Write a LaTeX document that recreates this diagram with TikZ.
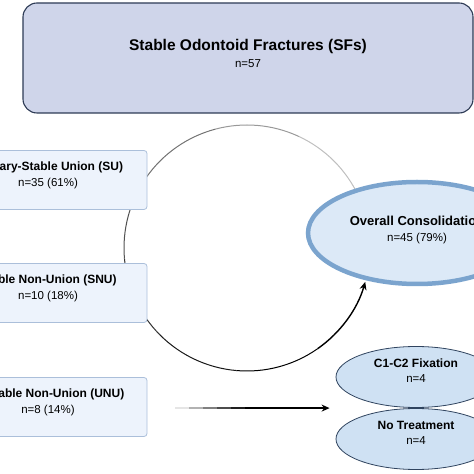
\documentclass[tikz,border=0pt]{standalone}
\usepackage{fontspec}
\setmainfont{Liberation Sans}
\definecolor{navyLine}{HTML}{2D3B55}
\definecolor{lavFill}{HTML}{CFD5EA}
\definecolor{paleFill}{HTML}{EDF3FC}
\definecolor{paleLine}{HTML}{ABBFDA}
\definecolor{consFill}{HTML}{DCE9F7}
\definecolor{consLine}{HTML}{7BA4CE}
\definecolor{outFill}{HTML}{CFE1F3}
\definecolor{outLine}{HTML}{30445F}
\usetikzlibrary{arrows.meta, positioning, shapes.geometric, calc, backgrounds}

\begin{document}
\begin{tikzpicture}[
    x=1pt, y=1pt,
    topbox/.style={rectangle, rounded corners=14pt, draw=navyLine, line width=1.1pt, fill=lavFill, align=center, minimum width=450pt, minimum height=110pt, text depth=9pt, font=\fontsize{11.5}{17}\selectfont},
    groupbox/.style={rectangle, rounded corners=3pt, draw=paleLine, line width=0.8pt, fill=paleFill, align=center, minimum width=198pt, minimum height=59pt, text depth=11pt, font=\fontsize{11.5}{16}\selectfont},
    consnode/.style={ellipse, draw=consLine, line width=4.5pt, fill=consFill, align=center, minimum width=218pt, minimum height=102pt, inner sep=0pt, text depth=8pt, font=\fontsize{11.5}{16}\selectfont},
    outnode/.style={ellipse, draw=outLine, line width=0.8pt, fill=outFill, align=center, minimum width=160pt, minimum height=61pt, inner sep=0pt, text depth=13pt, font=\fontsize{11.5}{15}\selectfont},
    loopline/.style={line width=1pt},
    arr/.style={line width=1.4pt, -{Stealth[length=8pt, width=7pt]}}
]
\useasboundingbox (0,0) rectangle (474,474);
\clip (0,0) rectangle (474,474);

% Top
\node[topbox] (sf) at (248,416) {\fontsize{15.5}{17}\selectfont\textbf{Stable Odontoid Fractures (SFs)}\\n=57};

% Groups
\node[groupbox] (su) at (48,294) {\fontsize{12}{16}\selectfont\textbf{Primary-Stable Union (SU)}\\n=35 (61\%)};
\node[groupbox] (snu) at (48,181) {\fontsize{12}{16}\selectfont\textbf{Stable Non-Union (SNU)}\\n=10 (18\%)};
\node[groupbox] (unu) at (48,67) {\fontsize{12}{16}\selectfont\textbf{Unstable Non-Union (UNU)}\\n=8 (14\%)};

% Outcomes
\node[consnode] (cons) at (417,241) {\fontsize{13}{16}\selectfont\textbf{Overall Consolidation}\\n=45 (79\%)};
\node[outnode] (c12) at (416,97) {\fontsize{12}{15}\selectfont\textbf{C1-C2 Fixation}\\n=4};
\node[outnode] (notr) at (416,35) {\fontsize{12}{15}\selectfont\textbf{No Treatment}\\n=4};

% Loop into consolidation
\coordinate (loopc) at (247,226);
\begin{scope}[on background layer]
\foreach \a/\c in {25/25,65/40,105/55,145/68,185/80,225/90,265/100}
  \draw[loopline, black!\c] ([shift={(\a:123)}]loopc) arc[start angle=\a, delta angle=40, radius=123];
\end{scope}
\draw[arr] ([shift={(305:123)}]loopc) arc[start angle=305, delta angle=39, radius=123];

% Unstable to outcomes
\coordinate (fork) at ($(c12.west |- notr.north)+(-6,0)$);
\foreach \s/\c in {28/10,42/30,56/50,70/70,84/88}
  \draw[line width=1.4pt, black!\c] ([xshift=\s pt]unu.east |- fork) -- ++(14,0);
\draw[arr] ([xshift=98pt]unu.east |- fork) -- (fork);

\end{tikzpicture}
\end{document}
